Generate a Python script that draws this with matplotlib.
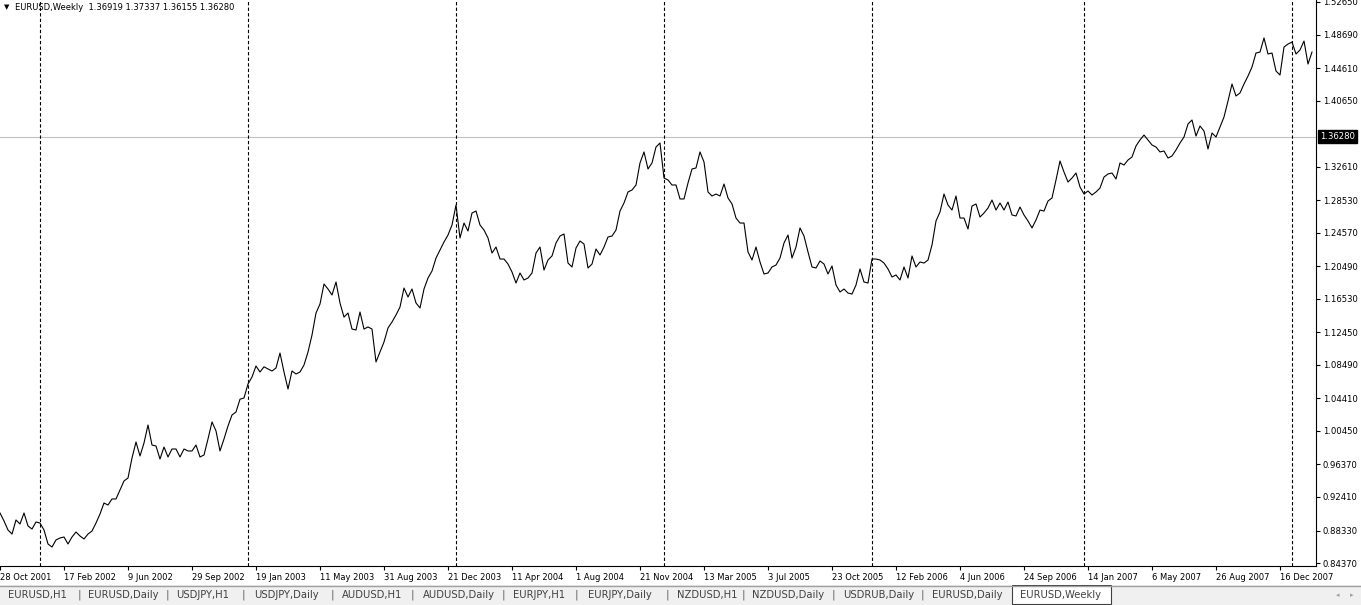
import matplotlib.pyplot as plt
from matplotlib.patches import Rectangle
import numpy as np

# weekly closes EURUSD, first bar = 28 Oct 2001
closes = [
    0.9046, 0.8949, 0.8839, 0.8790, 0.8961, 0.8912, 0.9046, 0.8888, 0.8851, 0.8937,
    0.8924, 0.8839, 0.8669, 0.8632, 0.8718, 0.8742, 0.8754, 0.8669, 0.8754, 0.8815,
    0.8766, 0.8730, 0.8790, 0.8827, 0.8924, 0.9034, 0.9168, 0.9143, 0.9217, 0.9217,
    0.9326, 0.9436, 0.9472, 0.9715, 0.9910, 0.9740, 0.9898, 1.0117, 0.9873, 0.9862,
    0.9703, 0.9849, 0.9728, 0.9825, 0.9825, 0.9728, 0.9825, 0.9801, 0.9801, 0.9873,
    0.9728, 0.9752, 0.9947, 1.0154, 1.0045, 0.9801, 0.9947, 1.0105, 1.0239, 1.0275,
    1.0431, 1.0446, 1.0616, 1.0701, 1.0835, 1.0762, 1.0825, 1.0799, 1.0774, 1.0811,
    1.0993, 1.0762, 1.0555, 1.0774, 1.0738, 1.0762, 1.0847, 1.1005, 1.1212, 1.1480,
    1.1590, 1.1833, 1.1772, 1.1699, 1.1857, 1.1602, 1.1430, 1.1480, 1.1285, 1.1273,
    1.1492, 1.1285, 1.1310, 1.1285, 1.0884, 1.1005, 1.1127, 1.1298, 1.1371, 1.1456,
    1.1553, 1.1784, 1.1675, 1.1772, 1.1602, 1.1541, 1.1772, 1.1906, 1.1991, 1.2149,
    1.2247, 1.2344, 1.2429, 1.2551, 1.2794, 1.2393, 1.2575, 1.2478, 1.2697, 1.2721,
    1.2551, 1.2490, 1.2393, 1.2210, 1.2283, 1.2137, 1.2137, 1.2076, 1.1979, 1.1845,
    1.1967, 1.1882, 1.1906, 1.1967, 1.2210, 1.2283, 1.2003, 1.2125, 1.2174, 1.2332,
    1.2417, 1.2442, 1.2088, 1.2040, 1.2271, 1.2356, 1.2320, 1.2028, 1.2076, 1.2259,
    1.2186, 1.2283, 1.2405, 1.2417, 1.2490, 1.2721, 1.2819, 1.2953, 1.2977, 1.3038,
    1.3306, 1.3440, 1.3233, 1.3306, 1.3500, 1.3549, 1.3123, 1.3099, 1.3038, 1.3038,
    1.2868, 1.2868, 1.3062, 1.3233, 1.3245, 1.3440, 1.3318, 1.2953, 1.2904, 1.2928,
    1.2904, 1.3050, 1.2880, 1.2807, 1.2636, 1.2575, 1.2575, 1.2223, 1.2125, 1.2283,
    1.2101, 1.1955, 1.1967, 1.2040, 1.2064, 1.2149, 1.2332, 1.2429, 1.2149, 1.2283,
    1.2515, 1.2417, 1.2223, 1.2040, 1.2028, 1.2113, 1.2076, 1.1955, 1.2052, 1.1821,
    1.1736, 1.1772, 1.1723, 1.1711, 1.1821, 1.2016, 1.1857, 1.1845, 1.2137, 1.2137,
    1.2125, 1.2088, 1.2016, 1.1918, 1.1943, 1.1882, 1.2040, 1.1906, 1.2174, 1.2040,
    1.2101, 1.2088, 1.2125, 1.2308, 1.2600, 1.2709, 1.2928, 1.2794, 1.2733, 1.2904,
    1.2636, 1.2636, 1.2502, 1.2782, 1.2807, 1.2648, 1.2697, 1.2758, 1.2855, 1.2733,
    1.2819, 1.2733, 1.2831, 1.2673, 1.2661, 1.2770, 1.2673, 1.2600, 1.2515, 1.2612,
    1.2733, 1.2721, 1.2843, 1.2880, 1.3099, 1.3330, 1.3196, 1.3074, 1.3123, 1.3184,
    1.3014, 1.2928, 1.2965, 1.2916, 1.2953, 1.3001, 1.3135, 1.3172, 1.3184, 1.3111,
    1.3306, 1.3281, 1.3342, 1.3379, 1.3513, 1.3586, 1.3646, 1.3586, 1.3525, 1.3500,
    1.3440, 1.3452, 1.3366, 1.3391, 1.3464, 1.3549, 1.3622, 1.3780, 1.3829, 1.3634,
    1.3756, 1.3695, 1.3476, 1.3671, 1.3622, 1.3744, 1.3865, 1.4060, 1.4267, 1.4121,
    1.4158, 1.4267, 1.4364, 1.4474, 1.4644, 1.4656, 1.4827, 1.4632, 1.4644, 1.4425,
    1.4376, 1.4717, 1.4753, 1.4778, 1.4632, 1.4681, 1.4790, 1.4510, 1.4656,
]

# date labels, one every 16 weeks
date_labels = ['28 Oct 2001', '17 Feb 2002', '9 Jun 2002', '29 Sep 2002', '19 Jan 2003',
               '11 May 2003', '31 Aug 2003', '21 Dec 2003', '11 Apr 2004', '1 Aug 2004',
               '21 Nov 2004', '13 Mar 2005', '3 Jul 2005', '23 Oct 2005', '12 Feb 2006',
               '4 Jun 2006', '24 Sep 2006', '14 Jan 2007', '6 May 2007', '26 Aug 2007',
               '16 Dec 2007']
label_step = 16

# first week of each year (period separators)
year_starts = [10, 62, 114, 166, 218, 271, 323]

price_ticks = [1.52650, 1.48690, 1.44610, 1.40650, 1.32610, 1.28530, 1.24570,
               1.20490, 1.16530, 1.12450, 1.08490, 1.04410, 1.00450, 0.96370,
               0.92410, 0.88330, 0.84370]
bid = 1.36280
header = 'EURUSD,Weekly  1.36919 1.37337 1.36155 1.36280'

tabs = ['EURUSD,H1', 'EURUSD,Daily', 'USDJPY,H1', 'USDJPY,Daily', 'AUDUSD,H1',
        'AUDUSD,Daily', 'EURJPY,H1', 'EURJPY,Daily', 'NZDUSD,H1', 'NZDUSD,Daily',
        'USDRUB,Daily', 'EURUSD,Daily', 'EURUSD,Weekly']
tab_x = [8, 88, 176, 254, 342, 423, 513, 588, 677, 752, 843, 932, 1020]
tab_sep_x = [79, 167, 243, 332, 412, 503, 576, 667, 743, 833, 922]

W, H = 1361, 605
plt.rcParams['font.family'] = 'DejaVu Sans'
fig = plt.figure(figsize=(W / 100, H / 100), dpi=100)

ax = fig.add_axes([0, (H - 566) / H, 1316 / W, 566 / H])
x = np.arange(len(closes))
ax.plot(x, closes, color='black', lw=0.8, zorder=3)
ax.set_xlim(0, 1316 / 4)
ax.set_ylim(0.84011, 1.52893)

for s in year_starts:
    ax.axvline(s, color='black', lw=0.8, ls=(0, (3, 2)), zorder=2)
ax.axhline(bid, color='#c0c0c0', lw=0.8, zorder=1)

for side in ['left', 'top']:
    ax.spines[side].set_visible(False)
for side in ['right', 'bottom']:
    ax.spines[side].set_linewidth(0.8)

ax.yaxis.tick_right()
ax.set_yticks(price_ticks)
ax.set_yticklabels(['%.5f' % v for v in price_ticks])
ax.set_xticks(np.arange(len(date_labels)) * label_step)
ax.set_xticklabels(date_labels, ha='left')
ax.tick_params(axis='both', direction='out', length=3, width=0.8, labelsize=6.1, pad=2)
ax.tick_params(axis='x', pad=2, labelsize=6.0)

ax.annotate('%.5f' % bid, xy=(1, bid), xycoords=('axes fraction', 'data'),
            xytext=(3, 0), textcoords='offset points', ha='left', va='center',
            fontsize=6.1, color='white',
            bbox=dict(boxstyle='square,pad=0.2', fc='black', ec='black'))

fig.text(4 / W, 1 - 7 / H, '\u25bc', fontsize=5, va='center', ha='left')
fig.text(15 / W, 1 - 7 / H, header, fontsize=6.0, va='center', ha='left')

# terminal tab bar
tb = fig.add_axes([0, 0, 1, 20 / H])
tb.set_xlim(0, W)
tb.set_ylim(20, 0)
tb.set_facecolor('#f0f0f0')
for sp in tb.spines.values():
    sp.set_visible(False)
tb.set_xticks([])
tb.set_yticks([])
tb.axhline(0.5, color='#a0a0a0', lw=1)
tb.add_patch(Rectangle((1012, 0), 99, 18.5, fc='white', ec='#404040', lw=0.8))
for name, tx in zip(tabs, tab_x):
    tb.text(tx, 10, name, fontsize=7.2, va='center', ha='left', color='#404040')
for sx in tab_sep_x:
    tb.text(sx, 10, '|', fontsize=7.5, va='center', ha='center', color='#606060')
tb.text(1338, 10, '\u25c2', fontsize=5, va='center', ha='center', color='#a0a0a0')
tb.text(1352, 10, '\u25b8', fontsize=5, va='center', ha='center', color='#a0a0a0')

fig.savefig('out.png', dpi=100)
